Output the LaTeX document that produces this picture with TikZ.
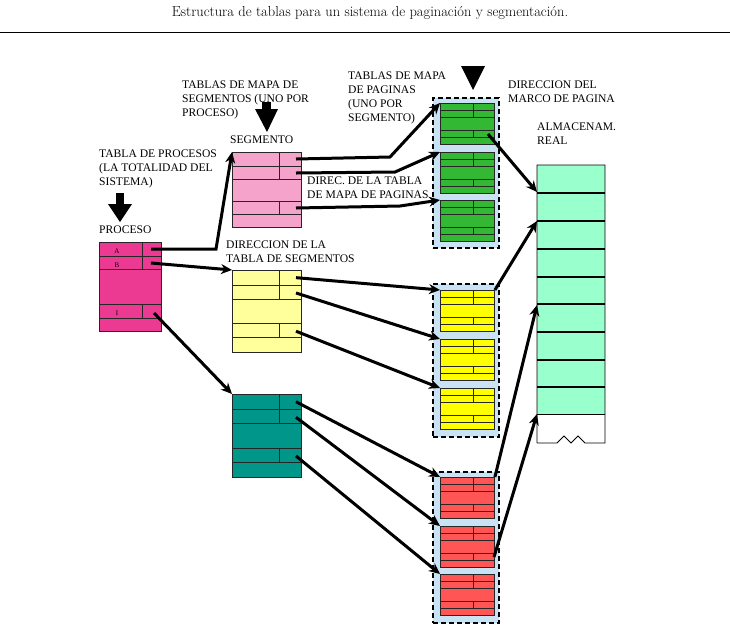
\documentclass[tikz,border=0pt]{standalone}
\usepackage{fontspec}
\setmainfont{Liberation Serif}
\newfontfamily\lmfont{Latin Modern Roman}
\usetikzlibrary{arrows.meta,calc}
\definecolor{proc}{HTML}{EC3A92}
\definecolor{segp}{HTML}{F5A3CB}
\definecolor{segy}{HTML}{FFFF9C}
\definecolor{segt}{HTML}{00968A}
\definecolor{pg}{HTML}{33B833}
\definecolor{py}{HTML}{FFFF00}
\definecolor{pr}{HTML}{FF5555}
\definecolor{mem}{HTML}{99FFCC}
\definecolor{cont}{HTML}{C9E3F5}
\tikzset{
 lbl/.style={anchor=north west,inner sep=0,font=\fontsize{11.6}{14}\selectfont,align=left},
 arr/.style={line width=3pt,-{Stealth[length=11pt,width=10pt]}},
 tbl/.style={draw=black!85,line width=0.9pt},
 cnt/.style={draw,dash pattern=on 5pt off 3pt,line width=2pt,fill=cont,anchor=north west,minimum width=66pt,inner sep=0},
}
\newcommand\segtab[5]{%
 \node[tbl,fill=#4,anchor=north west,minimum width=69pt,minimum height=#5*75pt,inner sep=0] (#1) at (#2,#3) {};
 \begin{scope}[shift={(#2,#3)},yscale=#5]
 \draw[tbl] (0,14)--(69,14) (0,27)--(69,27) (0,49)--(69,49) (0,62)--(69,62) (47,0)--(47,27) (47,49)--(47,62);
 \coordinate (#1-1) at (64,7);
 \coordinate (#1-2) at (64,21);
 \coordinate (#1-3) at (64,56);
 \end{scope}}
\newcommand\pgtab[4]{%
 \node[tbl,fill=#4,anchor=north west,minimum width=54pt,minimum height=41pt,inner sep=0] (#1) at (#2,#3) {};
 \begin{scope}[shift={(#2,#3)}]
 \draw[tbl] (0,7)--(54,7) (0,14)--(54,14) (0,27)--(54,27) (0,34)--(54,34) (33,0)--(33,14) (33,27)--(33,34);
 \end{scope}}
\begin{document}
\begin{tikzpicture}[x=1pt,y=-1pt]
\useasboundingbox (0,0) rectangle (730,633);
\node[font=\lmfont\fontsize{14.5}{16}\selectfont] (title) at (370,13) {Estructura de tablas para un sistema de paginación y segmentación.};
\draw[line width=0.8pt] (0,32)--(730,32);
% containers
\node[cnt,minimum height=150pt] (cg) at (432,97) {};
\node[cnt,minimum height=153pt] (cy) at (432,283) {};
\node[cnt,minimum height=151pt] (cr) at (432,471) {};
\pgtab{g1}{440}{103}{pg}\pgtab{g2}{440}{152}{pg}\pgtab{g3}{440}{200}{pg}
\pgtab{y1}{440}{290}{py}\pgtab{y2}{440}{339}{py}\pgtab{y3}{440}{388}{py}
\pgtab{r1}{440}{477}{pr}\pgtab{r2}{440}{526}{pr}\pgtab{r3}{440}{574}{pr}
% process table
\node[tbl,fill=proc,anchor=north west,minimum width=62pt,minimum height=89pt,inner sep=0] (proc) at (99,242) {};
\draw[tbl] (99,256)--(161,256) (99,269)--(161,269) (99,304)--(161,304) (99,318)--(161,318) (142,242)--(142,269) (142,304)--(142,318);
\node[font=\fontsize{7}{7}\selectfont,inner sep=0] (pa) at (117,251) {A};
\node[font=\fontsize{7}{7}\selectfont,inner sep=0] (pb) at (117,265) {B};
\node[font=\fontsize{7}{7}\selectfont,inner sep=0] (pi) at (117,313) {I};
\coordinate (pA) at (151,249); \coordinate (pB) at (151,263); \coordinate (pI) at (154,313);
% segment tables
\segtab{sp}{232}{152}{segp}{1}
\segtab{sy}{232}{270}{segy}{1.093}
\segtab{st}{232}{394}{segt}{1.107}
% memory
\fill[mem] (537,165) rectangle (605,414);
\draw[line width=0.8pt] (537,443)--(537,165)--(605,165)--(605,443)--(585,443)--(578,436)--(571,443)--(564,436)--(557,443)--(537,443);
\node[inner sep=0,anchor=north west,minimum width=68pt,minimum height=278pt] (mem) at (537,165) {};
\foreach \yy in {193,221,249,277,304,332,360,387}{\draw[line width=1.5pt] (537,\yy)--(605,\yy);}
\draw[line width=0.8pt] (537,414)--(605,414);
% big pointers
\fill (116,193) rectangle (124,205);
\fill (108,204)--(132,204)--(120,222)--cycle;
\fill (262,102) rectangle (271,110);
\fill (255,109)--(278,109)--(267,132)--cycle;
\fill (461,66)--(485,66)--(473,90)--cycle;
% labels
\node[lbl] (l1) at (99,150) {TABLA DE PROCESOS\\(LA TOTALIDAD DEL\\SISTEMA)};
\node[lbl] (l2) at (99,226) {PROCESO};
\node[lbl] (l3) at (182,81) {TABLAS DE MAPA DE\\SEGMENTOS (UNO POR\\PROCESO)};
\node[lbl] (l4) at (230,136) {SEGMENTO};
\node[lbl] (l5) at (307,177) {DIREC. DE LA TABLA\\DE MAPA DE PAGINAS};
\node[lbl] (l6) at (226,241) {DIRECCION DE LA\\TABLA DE SEGMENTOS};
\node[lbl] (l7) at (348,72) {TABLAS DE MAPA\\DE PAGINAS\\(UNO POR\\SEGMENTO)};
\node[lbl] (l8) at (508,81) {DIRECCION DEL\\MARCO DE PAGINA};
\node[lbl] (l9) at (537,123) {ALMACENAM.\\REAL};
% arrows from process
\draw[arr] (pA)--(216,249)--(sp.north west);
\draw[arr] (pB)--(sy.north west);
\draw[arr] (pI)--(st.north west);
% arrows segment -> page tables
\draw[arr] (sp-1)--(390,157)--(g1.north west);
\draw[arr] (sp-2)--(395,172)--(g2.north west);
\draw[arr] (sp-3)--(400,206)--(g3.north west);
\draw[arr] (sy-1)--(y1.north west);
\draw[arr] (sy-2)--(y2.north west);
\draw[arr] (sy-3)--(y3.north west);
\draw[arr] (st-1)--(r1.north west);
\draw[arr] (st-2)--(r2.north west);
\draw[arr] (st-3)--(r3.north west);
% page tables -> memory
\coordinate (g1o) at ($(g1.north west)+(48,31)$);
\coordinate (r2o) at ($(r2.north west)+(54,31)$);
\draw[arr] (g1o)--($(mem.north west)+(0,27)$);
\draw[arr] (y1.north east)--($(mem.north west)+(0,56)$);
\draw[arr] (r1.north east)--($(mem.north west)+(0,140)$);
\draw[arr] (r2o)--($(mem.north west)+(0,249)$);
\end{tikzpicture}
\end{document}
